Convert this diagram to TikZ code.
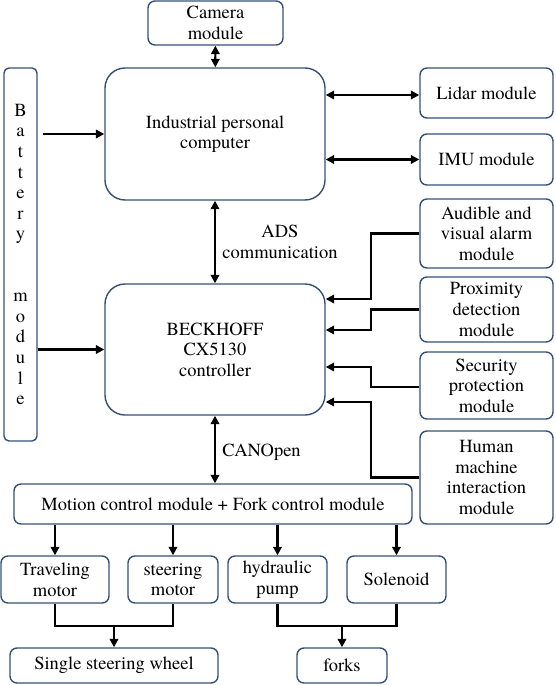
\documentclass[tikz,border=0pt]{standalone}
\usepackage{fontspec}
\setmainfont{texgyretermes-regular.otf}
\newfontfamily\boxfont{texgyretermes-regular.otf}
\usetikzlibrary{arrows.meta}
\definecolor{boxline}{RGB}{52,80,120}
\tikzset{
  blk/.style={draw=boxline, line width=1.4pt, rounded corners=7pt, inner sep=0pt, align=center,
    font=\boxfont\fontsize{18.5}{20.6}\selectfont},
  bigblk/.style={blk, rounded corners=20pt},
  wire/.style={line width=2.2pt},
  arr/.style={wire, -{Triangle[length=8.5pt,width=8.5pt]}},
  dbl/.style={wire, {Triangle[length=8.5pt,width=8.5pt]}-{Triangle[length=8.5pt,width=8.5pt]}},
  lbl/.style={align=center, font=\boxfont\fontsize{18.5}{20.6}\selectfont}
}
\begin{document}
\begin{tikzpicture}[x=1pt, y=-1pt]
\useasboundingbox (0,0) rectangle (555,685);
% upper half
\node[blk, minimum width=135pt, minimum height=44pt] (cam) at (215.5,23) {Camera\\module};
\node[blk, rounded corners=5pt, minimum width=33pt, minimum height=373pt] (bat) at (20.5,254.5)
  {B\\a\\t\\t\\e\\r\\y\\[41.2pt]m\\o\\d\\u\\l\\e};
\node[bigblk, minimum width=220pt, minimum height=132pt] (ipc) at (215,134) {Industrial personal\\computer};
\node[blk, minimum width=133pt, minimum height=50pt] (lidar) at (486.5,93) {Lidar module};
\node[blk, minimum width=133pt, minimum height=51pt] (imu) at (486.5,159.5) {IMU module};
\node[blk, minimum width=133pt, minimum height=69pt] (alarm) at (486.5,233.5) {Audible and\\visual alarm\\module};
\node[blk, minimum width=133pt, minimum height=65pt] (prox) at (486.5,309.5) {Proximity\\detection\\module};
\node[blk, minimum width=133pt, minimum height=67pt] (secu) at (486.5,385.5) {Security\\protection\\module};
\node[blk, minimum width=133pt, minimum height=93pt] (hmi) at (486.5,477.5) {Human\\machine\\interaction\\module};
\node[bigblk, minimum width=220pt, minimum height=131pt] (plc) at (215,349.5) {BECKHOFF\\CX5130\\controller};
% lower half
\node[blk, minimum width=398pt, minimum height=40pt] (motion) at (213,504) {Motion control module + Fork control module};
\node[blk, minimum width=108pt, minimum height=47pt] (trav) at (55,579.5) {Traveling\\motor};
\node[blk, minimum width=90pt, minimum height=47pt] (steer) at (173,579.5) {steering\\motor};
\node[blk, minimum width=99pt, minimum height=47pt] (pump) at (277.5,579.5) {hydraulic\\pump};
\node[blk, minimum width=99pt, minimum height=47pt] (sol) at (396.5,579.5) {Solenoid};
\node[blk, minimum width=208pt, minimum height=35pt] (wheel) at (114,665.5) {Single steering wheel};
\node[blk, minimum width=90pt, minimum height=35pt] (forks) at (342,665.5) {forks};
\coordinate (jw) at (114,626);
\coordinate (jf) at (342,626);
% connections
\draw[dbl] (cam) -- (ipc);
\draw[arr] ([xshift=5pt]bat.east |- ipc.west) -- (ipc.west);
\draw[arr] (bat.east |- plc.west) -- (plc.west);
\draw[dbl] ([yshift=-2pt]ipc.east |- lidar.west) -- ([yshift=-2pt]lidar.west);
\draw[dbl] (ipc.east |- imu.west) -- (imu.west);
\draw[dbl] (ipc) -- node[midway, right=3pt, lbl] {ADS\\communication} (plc);
\draw[dbl] (plc) -- node[midway, right=3pt, lbl, yshift=-3pt] {CANOpen} (motion.north -| plc);
\draw[arr] (alarm.west) -- ++(-48,0) |- ([yshift=50.5pt]plc.east);
\draw[arr] (prox.west) -- ++(-48,0) |- ([yshift=19.5pt]plc.east);
\draw[arr] ([yshift=-1.5pt]secu.west) -- ++(-48,0) |- ([yshift=-17.5pt]plc.east);
\draw[arr] (hmi.west) -- ++(-48,0) |- ([yshift=-52.5pt]plc.east);
\foreach \n in {trav, steer, pump, sol}
  \draw[arr] (motion.south -| \n) -- (\n.north);
\draw[wire] (trav.south) |- (jw) -| (steer.south);
\draw[arr] (jw) -- (wheel.north);
\draw[wire] (pump.south) |- (jf) -| (sol.south);
\draw[arr] (jf) -- (forks.north);
\end{tikzpicture}
\end{document}
